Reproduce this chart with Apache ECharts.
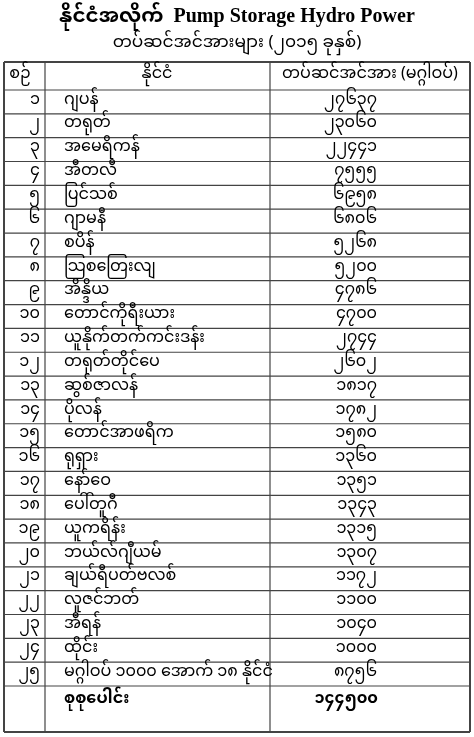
<!DOCTYPE html>
<html><head><meta charset="utf-8">
<script src="https://cdn.jsdelivr.net/npm/echarts@6/dist/echarts.min.js"></script>
<style>html,body{margin:0;background:#fff}#c{width:474px;height:737px}</style>
</head><body><div id="c"></div>
<script>
const titleLines = ['နိုင်ငံအလိုက်  Pump Storage Hydro Power', 'တပ်ဆင်အင်အားများ (၂၀၁၅ ခုနှစ်)'];
const headers = ['စဉ်', 'နိုင်ငံ', 'တပ်ဆင်အင်အား (မဂ္ဂါဝပ်)'];
const countries = ['ဂျပန်', 'တရုတ်', 'အမေရိကန်', 'အီတလီ', 'ပြင်သစ်', 'ဂျာမနီ', 'စပိန်', 'သြစတြေးလျ', 'အိန္ဒိယ', 'တောင်ကိုရီးယား',
  'ယူနိုက်တက်ကင်းဒန်း', 'တရုတ်တိုင်ပေ', 'ဆွစ်ဇာလန်', 'ပိုလန်', 'တောင်အာဖရိက', 'ရုရှား', 'နော်ဝေ', 'ပေါ်တူဂီ', 'ယူကရိန်း', 'ဘယ်လ်ဂျီယမ်',
  'ချယ်ရီပတ်ဗလစ်', 'လူဇင်ဘတ်', 'အီရန်', 'ထိုင်း', 'မဂ္ဂါဝပ် ၁၀၀၀ အောက် ၁၈ နိုင်ငံ'];
const capacity = [27637, 23060, 22441, 7555, 6958, 6806, 5268, 5200, 4786, 4700,
  2744, 2602, 1817, 1782, 1580, 1360, 1351, 1343, 1315, 1307,
  1172, 1100, 1040, 1000, 8756];
const totalLabel = 'စုစုပေါင်း';
const totalValue = 144500;

const myDigits = '၀၁၂၃၄၅၆၇၈၉';
const toMy = n => String(n).replace(/[0-9]/g, d => myDigits[d]);

const font = "'Noto Sans Myanmar','Padauk','Myanmar Text','Noto Sans',sans-serif";
const colX = [4, 45, 270, 470];
const headTop = 62, headH = 28, rowH = 23.84, totalH = 46;
const g = [];

g.push({type: 'text', style: {text: titleLines[0], x: 237, y: 17, align: 'center', verticalAlign: 'middle',
  font: "bold 20px 'Liberation Serif'," + font, fill: '#000'}});
g.push({type: 'text', style: {text: titleLines[1], x: 237, y: 45, align: 'center', verticalAlign: 'middle',
  font: '17px ' + font, fill: '#000'}});

const rowTops = [headTop, headTop + headH];
for (let i = 0; i < countries.length; i++) rowTops.push(headTop + headH + (i + 1) * rowH);
const bottom = rowTops[rowTops.length - 1] + totalH;
const line = (x1, y1, x2, y2, w) => g.push({type: 'line', shape: {x1, y1, x2, y2}, style: {stroke: '#444', lineWidth: w}});

line(colX[0], headTop, colX[3], headTop, 2);
line(colX[0], bottom, colX[3], bottom, 2);
line(colX[0], headTop, colX[0], bottom, 2);
line(colX[3], headTop, colX[3], bottom, 2);
line(colX[1], headTop, colX[1], bottom, 1.2);
line(colX[2], headTop, colX[2], bottom, 1.2);
rowTops.slice(1).forEach(y => line(colX[0], y, colX[3], y, 1.2));

const txt = (text, x, y, align, size, bold) => g.push({type: 'text', style: {text, x, y, align, verticalAlign: 'middle',
  font: (bold ? 'bold ' : '') + size + 'px ' + font, fill: '#000'}});

const hy = headTop + headH / 2;
txt(headers[0], 20, hy, 'center', 16);
txt(headers[1], 157, hy, 'center', 16);
txt(headers[2], 370, hy, 'center', 16);

countries.forEach((c, i) => {
  const y = rowTops[i + 1] + rowH / 2;
  txt(toMy(i + 1), 40, y, 'right', 16);
  txt(c, 64, y, 'left', 16);
  txt(toMy(capacity[i]), 377, y, 'right', 16);
});
const ty = rowTops[rowTops.length - 1] + 15;
txt(totalLabel, 64, ty, 'left', 16, true);
txt(toMy(totalValue), 378, ty, 'right', 16, true);

const chart = echarts.init(document.getElementById('c'));
chart.setOption({backgroundColor: '#fff', graphic: g});
window.addEventListener('resize', () => chart.resize());
</script></body></html>
